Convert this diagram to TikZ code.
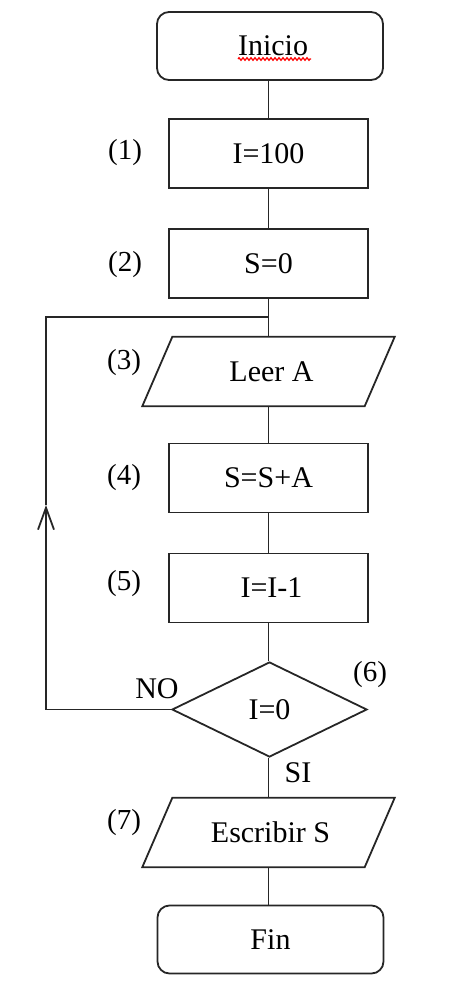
\documentclass[tikz,border=0pt]{standalone}
\usepackage{fontspec}
\setmainfont{Liberation Serif}
\usetikzlibrary{shapes.geometric,arrows.meta,decorations.pathmorphing}
\begin{document}
\begin{tikzpicture}[x=1pt,y=-1pt,
  every node/.style={font=\fontsize{30}{34}\selectfont, inner sep=0pt},
  line/.style={line width=1.8pt, draw=black!85},
  proc/.style={line, rectangle, minimum width=199pt, minimum height=69pt},
  term/.style={line, rectangle, rounded corners=12pt, minimum width=226pt, minimum height=68pt},
  io/.style={rectangle, minimum width=222pt, minimum height=69pt},
  para/.style={line},
  lbl/.style={font=\fontsize{29}{32}\selectfont}]
\useasboundingbox (0,0) rectangle (474,983);
\node[term] (ini) at (270,46) {\hspace*{6pt}Inicio};
\node[proc] (n1) at (268.5,153.5) {I=100};
\node[proc] (n2) at (268.5,263.5) {S=0};
\node[io]   (n3) at (268.5,371.5) {\hspace*{6pt}Leer A};
\node[proc] (n4) at (268.5,478) {S=S+A};
\node[proc] (n5) at (268.5,588) {\hspace*{6pt}I=I-1};
\node[line, diamond, minimum width=195pt, minimum height=95pt] (n6) at (269.5,709.5) {I=0};
\node[io]   (n7) at (268.5,832.5) {\hspace*{4pt}Escribir S};
\node[term] (fin) at (270.5,939.5) {Fin};
\foreach \p in {n3,n7}{
  \draw[para] ([xshift=-15pt]\p.south west) -- ([xshift=15pt]\p.north west)
    -- ([xshift=15pt]\p.north east) -- ([xshift=-15pt]\p.south east) -- cycle;
}
\node[lbl] (l1) at (125,153) {(1)};
\node[lbl] (l2) at (125,265) {(2)};
\node[lbl] (l3) at (124,363) {(3)};
\node[lbl] (l4) at (124,478) {(4)};
\node[lbl] (l5) at (124,584) {(5)};
\node[lbl] (l6) at (370,675) {(6)};
\node[lbl] (l7) at (124,823) {(7)};
\node (no) at (157,689) {NO};
\node (si) at (298,773) {SI};
\coordinate (j) at (268.5,317);
\coordinate (lt) at (46,317);
\coordinate (lb) at (46,709.5);
\coordinate (aw) at (46,505);
\draw[line] (n1.north |- ini.south) -- (n1.north);
\draw[line] (n1) -- (n2);
\draw[line] (n2) -- (j) -- (n3);
\draw[line] (n3) -- (n4);
\draw[line] (n4) -- (n5);
\draw[line] (n5.south) -- (n5.south |- n6.north);
\draw[line] (n7.north |- n6.south) -- (n7.north);
\draw[line] (n7.south) -- (n7.south |- fin.north);
\draw[line, -{Straight Barb[length=22pt,width=16pt,line width=1.8pt]}] (n6.west) -- (lb) -- (aw);
\draw[line] (aw) -- (lt) -- (j);
\draw[red, line width=1.2pt, decorate, decoration={zigzag, segment length=4pt, amplitude=1.3pt}] (238,59) -- (311,59);
\end{tikzpicture}
\end{document}
